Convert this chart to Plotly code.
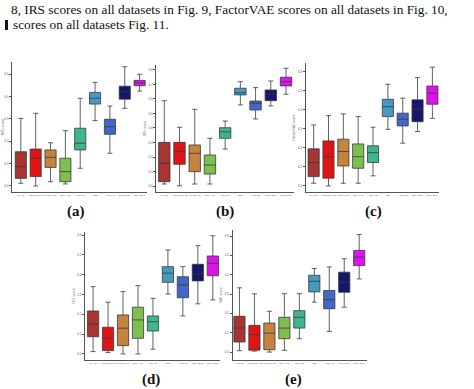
import plotly.graph_objects as go

methods = ["β-VAE", "AnnealedVAE", "FactorVAE", "DIP-VAE", "TCVAE", "IDE", "AdaVAE", "DSVAE(p)", "DSVAE(q)"]
colors = ["#a83434", "#e01414", "#c4843e", "#7fbf4f", "#3fb58e", "#4599c2", "#4466c8", "#16166c", "#dd12ee"]

# panel (a)
a_lo = [0.012, 0.000, 0.019, 0.009, 0.079, 0.292, 0.146, 0.347, 0.424]
a_q1 = [0.034, 0.042, 0.083, 0.019, 0.161, 0.366, 0.231, 0.388, 0.448]
a_med = [0.086, 0.124, 0.128, 0.064, 0.191, 0.392, 0.265, 0.421, 0.461]
a_q3 = [0.153, 0.165, 0.161, 0.124, 0.258, 0.418, 0.298, 0.446, 0.472]
a_hi = [0.302, 0.325, 0.193, 0.247, 0.392, 0.463, 0.357, 0.533, 0.499]

# panel (b)
b_lo = [0.014, 0.002, 0.014, 0.014, 0.255, 0.559, 0.462, 0.552, 0.632]
b_q1 = [0.030, 0.150, 0.099, 0.083, 0.329, 0.628, 0.524, 0.588, 0.690]
b_med = [0.157, 0.237, 0.226, 0.145, 0.374, 0.643, 0.570, 0.634, 0.719]
b_q3 = [0.301, 0.301, 0.283, 0.214, 0.402, 0.674, 0.586, 0.662, 0.750]
b_hi = [0.588, 0.405, 0.529, 0.329, 0.448, 0.719, 0.678, 0.724, 0.812]

# panel (c)
c_lo = [0.014, 0.000, 0.014, 0.014, 0.053, 0.298, 0.225, 0.286, 0.356]
c_q1 = [0.049, 0.041, 0.105, 0.093, 0.123, 0.365, 0.316, 0.338, 0.430]
c_med = [0.123, 0.154, 0.181, 0.154, 0.175, 0.417, 0.351, 0.404, 0.488]
c_q3 = [0.195, 0.237, 0.246, 0.221, 0.211, 0.456, 0.383, 0.453, 0.526]
c_hi = [0.321, 0.370, 0.379, 0.365, 0.309, 0.535, 0.462, 0.570, 0.625]

# panel (d)
d_lo = [0.012, 0.007, 0.000, 0.000, 0.024, 0.303, 0.192, 0.253, 0.273]
d_q1 = [0.087, 0.017, 0.042, 0.079, 0.116, 0.362, 0.284, 0.369, 0.395]
d_med = [0.152, 0.079, 0.130, 0.172, 0.163, 0.408, 0.348, 0.404, 0.458]
d_q3 = [0.217, 0.135, 0.197, 0.236, 0.192, 0.441, 0.390, 0.453, 0.495]
d_hi = [0.340, 0.261, 0.315, 0.345, 0.281, 0.525, 0.441, 0.547, 0.597]

# panel (e)
e_lo = [0.007, 0.005, 0.000, 0.009, 0.069, 0.258, 0.107, 0.232, 0.378]
e_q1 = [0.052, 0.010, 0.012, 0.069, 0.124, 0.311, 0.224, 0.309, 0.447]
e_med = [0.124, 0.090, 0.098, 0.124, 0.180, 0.366, 0.271, 0.361, 0.491]
e_q3 = [0.185, 0.138, 0.150, 0.180, 0.214, 0.397, 0.318, 0.413, 0.525]
e_hi = [0.332, 0.301, 0.211, 0.302, 0.302, 0.432, 0.440, 0.483, 0.608]

y_titles = ["MIG score", "IRS score", "FactorVAE score", "DCI score", "SAP score"]
y_ticks = [[0, 0.1, 0.2, 0.3, 0.4, 0.5],
           [0, 0.1, 0.2, 0.3, 0.4, 0.5, 0.6, 0.7, 0.8],
           [0, 0.1, 0.2, 0.3, 0.4, 0.5, 0.6],
           [0, 0.1, 0.2, 0.3, 0.4, 0.5, 0.6],
           [0, 0.1, 0.2, 0.3, 0.4, 0.5, 0.6]]
panel_labels = ["(a)", "(b)", "(c)", "(d)", "(e)"]
caption_1 = "8, IRS scores on all datasets in Fig. 9, FactorVAE scores on all datasets in Fig. 10,"
caption_2 = "scores on all datasets Fig. 11."

panels = [
    (a_lo, a_q1, a_med, a_q3, a_hi),
    (b_lo, b_q1, b_med, b_q3, b_hi),
    (c_lo, c_q1, c_med, c_q3, c_hi),
    (d_lo, d_q1, d_med, d_q3, d_hi),
    (e_lo, e_q1, e_med, e_q3, e_hi),
]

W, H = 474, 389
# plot-area pixel boxes (left, right, top, bottom)
px_boxes = [(7, 144, 62, 192), (153, 292, 65, 192), (304, 439, 63, 192),
            (81, 217, 232, 359.5), (230, 366, 230, 360)]
x_ranges = [(-0.6, 8.53), (-0.52, 8.52), (-0.53, 8.47), (-0.53, 8.46), (-0.46, 8.53)]
y_ranges = [(-0.027, 0.554), (-0.041, 0.834), (-0.032, 0.647), (-0.028, 0.616), (-0.041, 0.631)]
label_pos = [(72, 212), (222, 212), (372, 212), (148, 379), (292, 379)]

fig = go.Figure()
layout = {}
for p, (lo, q1, med, q3, hi) in enumerate(panels):
    sfx = "" if p == 0 else str(p + 1)
    for i in range(len(methods)):
        fig.add_trace(go.Box(
            x=[i], lowerfence=[lo[i]], q1=[q1[i]], median=[med[i]], q3=[q3[i]], upperfence=[hi[i]],
            fillcolor=colors[i], line=dict(color="#3a3a3a", width=0.8),
            width=0.75, whiskerwidth=0.45, boxpoints=False, showlegend=False,
            xaxis="x" + sfx, yaxis="y" + sfx, hoverinfo="skip"))
    x0, x1, y0, y1 = px_boxes[p]
    layout["xaxis" + sfx] = dict(
        domain=[x0 / W, x1 / W], range=list(x_ranges[p]), anchor="y" + sfx,
        tickvals=list(range(len(methods))), ticktext=methods, tickangle=0,
        tickfont=dict(size=2.5, color="#555", family="Liberation Sans"),
        showline=True, linecolor="#555", linewidth=1, showgrid=False, zeroline=False, ticks="")
    layout["yaxis" + sfx] = dict(
        domain=[1 - y1 / H, 1 - y0 / H], range=list(y_ranges[p]), anchor="x" + sfx,
        tickvals=y_ticks[p], tickformat=".1f",
        tickfont=dict(size=3, color="#555", family="Liberation Sans"),
        ticks="outside", ticklen=2, tickcolor="#555",
        showline=True, linecolor="#555", linewidth=1, showgrid=False, zeroline=False,
        title=dict(text=y_titles[p], font=dict(size=3.5, color="#666"), standoff=2))

annotations = []
for p, (lx, ly) in enumerate(label_pos):
    annotations.append(dict(x=lx / W, y=1 - ly / H, xref="paper", yref="paper",
                            xanchor="center", yanchor="middle",
                            text="<b>" + panel_labels[p] + "</b>", showarrow=False,
                            font=dict(family="Liberation Serif", size=15, color="#111")))
annotations.append(dict(x=4 / W, y=1 - 9 / H, xref="paper", yref="paper",
                        xanchor="left", yanchor="middle",
                        text=caption_1, showarrow=False,
                        font=dict(family="Liberation Serif", size=13.3, color="#111")))
annotations.append(dict(x=6 / W, y=1 - 25 / H, xref="paper", yref="paper",
                        xanchor="left", yanchor="middle",
                        text=caption_2, showarrow=False,
                        font=dict(family="Liberation Serif", size=13.3, color="#111")))

shapes = [dict(type="rect", xref="paper", yref="paper", x0=0, x1=3 / W,
               y0=1 - 30 / H, y1=1 - 20 / H, fillcolor="#111", line=dict(width=0))]

fig.update_layout(width=W, height=H, margin=dict(l=0, r=0, t=0, b=0),
                  paper_bgcolor="white", plot_bgcolor="white",
                  annotations=annotations, shapes=shapes, **layout)
fig.write_html("out.html", config={"displayModeBar": False},
               post_script="document.body.style.margin='0px';")
